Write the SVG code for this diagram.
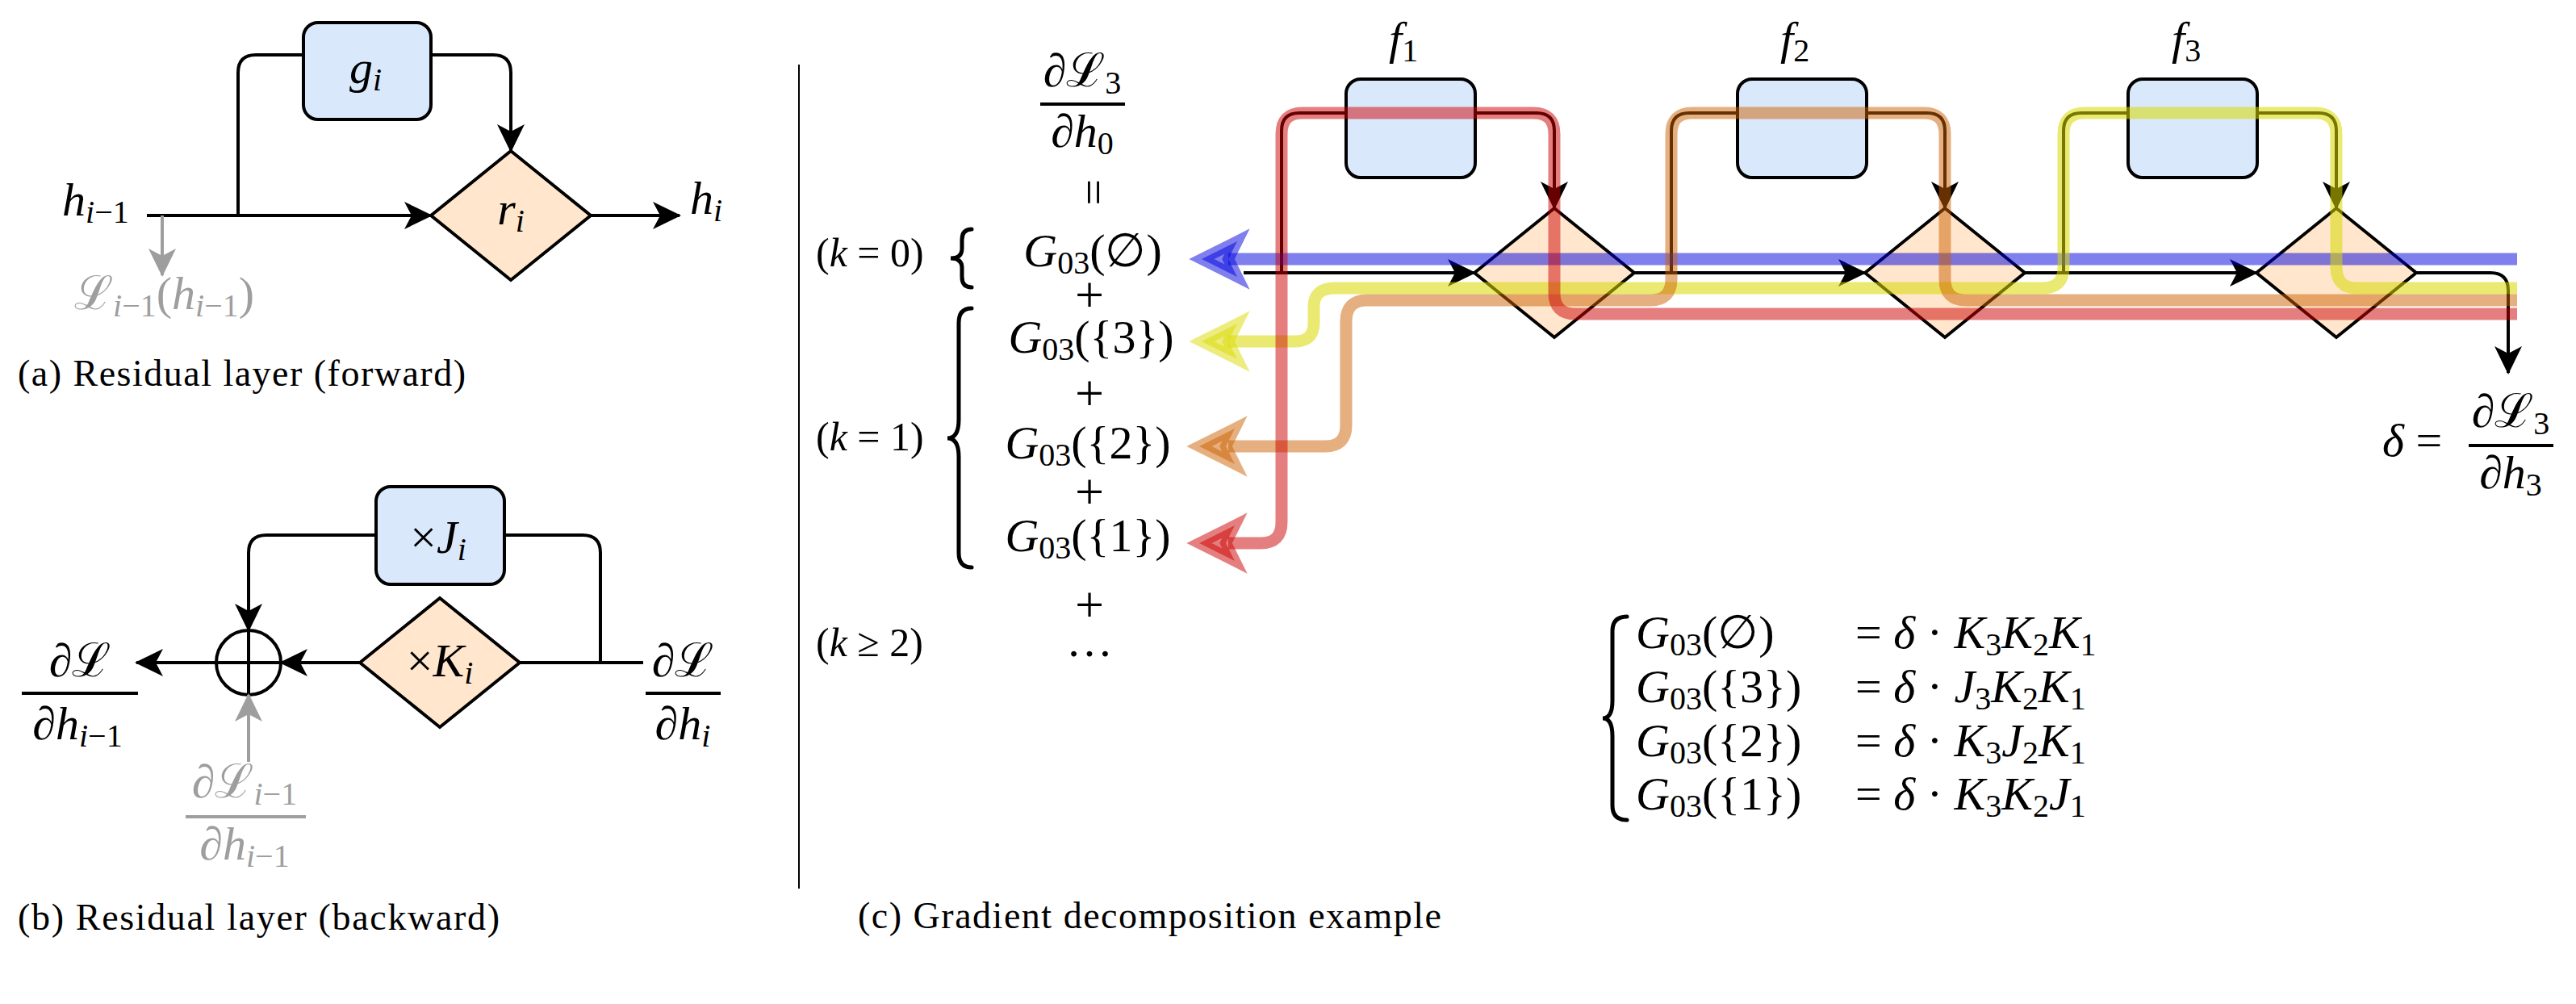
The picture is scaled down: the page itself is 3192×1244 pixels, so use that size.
<svg xmlns="http://www.w3.org/2000/svg" width="3192" height="1244" viewBox="0 0 3192 1244">
<style>
.ln{stroke:#000;stroke-width:4;fill:none}
.gl{stroke:#9e9e9e;stroke-width:4;fill:none}
.box{fill:#dae8fc;stroke:#000;stroke-width:4}
.dia{fill:#ffe6cc;stroke:#000;stroke-width:4}
.bar{stroke:#000;stroke-width:4}
.gbar{stroke:#9e9e9e;stroke-width:4}
.m{font-family:"Liberation Serif","DejaVu Serif",serif;font-size:58px;fill:#000}
.mc{font-family:"Liberation Serif","DejaVu Serif",serif;font-size:58px;fill:#000}
.pl{font-family:"Liberation Serif","DejaVu Serif",serif;font-size:64px;fill:#000}
.k{font-family:"Liberation Serif","DejaVu Serif",serif;font-size:50px;fill:#000}
.g{fill:#9e9e9e}
.it{font-style:italic}
.sb{font-size:40px}
.cap{font-family:"Liberation Serif","DejaVu Serif",serif;font-size:46px;fill:#000}
.band{fill:none;stroke-width:15;stroke-opacity:0.5}
.head{stroke-width:14;stroke-linejoin:miter;stroke-miterlimit:4;fill-opacity:0.5;stroke-opacity:0.5}
.brace{fill:none;stroke:#000;stroke-width:5;stroke-linecap:round}
</style>
<defs>
<marker id="ah" viewBox="-40 -20 44 40" refX="0" refY="0" markerWidth="44" markerHeight="40" markerUnits="userSpaceOnUse" orient="auto">
<path d="M2,0 L-33,-17 L-24,0 L-33,17 Z" fill="#000"/>
</marker>
<marker id="ahg" viewBox="-40 -20 44 40" refX="0" refY="0" markerWidth="44" markerHeight="40" markerUnits="userSpaceOnUse" orient="auto">
<path d="M2,0 L-33,-17 L-24,0 L-33,17 Z" fill="#9e9e9e"/>
</marker>
<polygon id="bhead" points="0,0 44,-22 33,0 44,22"/>
</defs>

<!-- Panel (a) -->
<g id="a-gi">
<rect class="box" x="376" y="28" width="158" height="120" rx="18"/>
<text class="m" x="453" y="103" text-anchor="middle"><tspan class="it">g</tspan><tspan class="sb it" dy="9">i</tspan></text>
</g>
<g id="a-ri">
<polygon class="dia" points="534,267 633,187 732,267 633,347"/>
<text class="m" x="633" y="278" text-anchor="middle"><tspan class="it">r</tspan><tspan class="sb it" dy="9">i</tspan></text>
</g>
<g id="a-hin">
<text class="m" x="77" y="267"><tspan class="it">h</tspan><tspan class="sb" dy="9"><tspan class="it">i</tspan>−1</tspan></text>
</g>
<g id="a-hout">
<text class="m" x="855" y="265"><tspan class="it">h</tspan><tspan class="sb it" dy="9">i</tspan></text>
</g>
<g id="a-loss">
<text class="m g" x="92" y="383"><tspan>ℒ</tspan><tspan class="sb it" dy="9">i</tspan><tspan class="sb" dy="0">−1</tspan><tspan dy="-9">(</tspan><tspan class="it">h</tspan><tspan class="sb" dy="9"><tspan class="it">i</tspan>−1</tspan><tspan dy="-9">)</tspan></text>
</g>
<g id="a-edges">
<path class="ln" d="M182,267 H534" marker-end="url(#ah)"/>
<path class="ln" d="M295,267 V90 Q295,68 317,68 H376"/>
<path class="ln" d="M534,68 H611 Q633,68 633,90 V187" marker-end="url(#ah)"/>
<path class="ln" d="M732,267 H842" marker-end="url(#ah)"/>
<path class="gl" d="M201,267 V341" marker-end="url(#ahg)"/>
</g>
<text class="cap" x="22" y="478" textLength="555" lengthAdjust="spacing">(a) Residual layer (forward)</text>

<!-- Panel (b) -->
<g id="b-Ji">
<rect class="box" x="466" y="603" width="159" height="121" rx="18"/>
<text class="m" x="543" y="685" text-anchor="middle">×<tspan class="it">J</tspan><tspan class="sb it" dy="9">i</tspan></text>
</g>
<g id="b-Ki">
<polygon class="dia" points="446,821 545,741 644,821 545,901"/>
<text class="m" x="545" y="838" text-anchor="middle">×<tspan class="it">K</tspan><tspan class="sb it" dy="9">i</tspan></text>
</g>
<g id="b-plus">
<circle cx="308" cy="821" r="40" fill="#fff" stroke="#000" stroke-width="4"/>
<path class="ln" d="M268,821 H348 M308,781 V861"/>
</g>
<g id="b-out">
<line class="bar" x1="27" y1="859" x2="171" y2="859"/>
<text class="m" x="99" y="838" text-anchor="middle">∂ℒ</text>
<text class="m" x="96" y="916" text-anchor="middle">∂<tspan class="it">h</tspan><tspan class="sb" dy="9"><tspan class="it">i</tspan>−1</tspan></text>
</g>
<g id="b-in">
<line class="bar" x1="800" y1="859" x2="893" y2="859"/>
<text class="m" x="846" y="838" text-anchor="middle">∂ℒ</text>
<text class="m" x="846" y="916" text-anchor="middle">∂<tspan class="it">h</tspan><tspan class="sb it" dy="9">i</tspan></text>
</g>
<g id="b-loss">
<line class="gbar" x1="230" y1="1012" x2="379" y2="1012"/>
<text class="m g" x="303" y="988" text-anchor="middle">∂ℒ<tspan class="sb" dy="9"><tspan class="it">i</tspan>−1</tspan></text>
<text class="m g" x="303" y="1065" text-anchor="middle">∂<tspan class="it">h</tspan><tspan class="sb" dy="9"><tspan class="it">i</tspan>−1</tspan></text>
</g>
<g id="b-edges">
<path class="ln" d="M797,821 H644"/>
<path class="ln" d="M744,821 V685 Q744,663 722,663 H625"/>
<path class="ln" d="M466,663 H330 Q308,663 308,685 V781" marker-end="url(#ah)"/>
<path class="ln" d="M446,821 H348" marker-end="url(#ah)"/>
<path class="ln" d="M268,821 H169" marker-end="url(#ah)"/>
<path class="gl" d="M308,944 V861" marker-end="url(#ahg)"/>
</g>
<text class="cap" x="22" y="1152" textLength="597" lengthAdjust="spacing">(b) Residual layer (backward)</text>

<!-- divider -->
<line x1="990" y1="80" x2="990" y2="1101" stroke="#000" stroke-width="2"/>

<!-- Panel (c) left column -->
<g id="c-lhs">
<line class="bar" x1="1289" y1="129" x2="1394" y2="129"/>
<text class="mc" x="1341" y="107" text-anchor="middle">∂ℒ<tspan class="sb" dy="9">3</tspan></text>
<text class="mc" x="1341" y="182" text-anchor="middle">∂<tspan class="it">h</tspan><tspan class="sb" dy="9">0</tspan></text>
<text class="mc" transform="translate(1336,238) rotate(90)" text-anchor="middle" y="0">=</text>
</g>
<g id="c-k0">
<text class="k" x="1011" y="330">(<tspan class="it">k</tspan> = 0)</text>
<path class="brace" d="M1204,284 Q1192,284 1192,297 V308 Q1192,320 1178,320 Q1192,320 1192,332 V343 Q1192,356 1204,356"/>
<text class="mc" x="1354" y="330" text-anchor="middle"><tspan class="it">G</tspan><tspan class="sb" dy="9">03</tspan><tspan dy="-9">(∅)</tspan></text>
<text class="pl" x="1350" y="387" text-anchor="middle">+</text>
</g>
<g id="c-k1">
<text class="k" x="1011" y="558">(<tspan class="it">k</tspan> = 1)</text>
<path class="brace" d="M1204,382 Q1188,382 1188,400 V520 Q1188,543 1174,543 Q1188,543 1188,566 V685 Q1188,703 1204,703"/>
<text class="mc" x="1352" y="437" text-anchor="middle"><tspan class="it">G</tspan><tspan class="sb" dy="9">03</tspan><tspan dy="-9">({3})</tspan></text>
<text class="pl" x="1350" y="509" text-anchor="middle">+</text>
<text class="mc" x="1348" y="568" text-anchor="middle"><tspan class="it">G</tspan><tspan class="sb" dy="9">03</tspan><tspan dy="-9">({2})</tspan></text>
<text class="pl" x="1350" y="631" text-anchor="middle">+</text>
<text class="mc" x="1348" y="683" text-anchor="middle"><tspan class="it">G</tspan><tspan class="sb" dy="9">03</tspan><tspan dy="-9">({1})</tspan></text>
<text class="pl" x="1350" y="771" text-anchor="middle">+</text>
</g>
<g id="c-k2">
<text class="k" x="1011" y="813">(<tspan class="it">k</tspan> ≥ 2)</text>
<text class="mc" x="1350" y="813" text-anchor="middle">…</text>
</g>

<!-- Panel (c) nodes -->
<g id="c-f1">
<text class="m" x="1721" y="67"><tspan class="it">f</tspan><tspan class="sb" dy="9">1</tspan></text>
<rect class="box" x="1668" y="98" width="160" height="122" rx="18"/>
</g>
<g id="c-f2">
<text class="m" x="2206" y="67"><tspan class="it">f</tspan><tspan class="sb" dy="9">2</tspan></text>
<rect class="box" x="2153" y="98" width="160" height="122" rx="18"/>
</g>
<g id="c-f3">
<text class="m" x="2691" y="67"><tspan class="it">f</tspan><tspan class="sb" dy="9">3</tspan></text>
<rect class="box" x="2637" y="98" width="160" height="122" rx="18"/>
</g>
<g id="c-r1"><polygon class="dia" points="1827,338 1926,258 2025,338 1926,418"/></g>
<g id="c-r2"><polygon class="dia" points="2311,338 2410,258 2509,338 2410,418"/></g>
<g id="c-r3"><polygon class="dia" points="2796,338 2895,258 2994,338 2895,418"/></g>
<g id="c-delta">
<text class="mc" x="2952" y="565"><tspan class="it">δ</tspan> =</text>
<line class="bar" x1="3059" y1="552" x2="3164" y2="552"/>
<text class="mc" x="3111" y="529" text-anchor="middle">∂ℒ<tspan class="sb" dy="9">3</tspan></text>
<text class="mc" x="3111" y="605" text-anchor="middle">∂<tspan class="it">h</tspan><tspan class="sb" dy="9">3</tspan></text>
</g>

<!-- Panel (c) black connectors -->
<g id="c-edges">
<path class="ln" d="M1541,338 H1827" marker-end="url(#ah)"/>
<path class="ln" d="M2025,338 H2311" marker-end="url(#ah)"/>
<path class="ln" d="M2509,338 H2796" marker-end="url(#ah)"/>
<path class="ln" d="M2994,338 H3086 Q3108,338 3108,360 V462" marker-end="url(#ah)"/>
<path class="ln" d="M1588,338 V162 Q1588,140 1610,140 H1668"/>
<path class="ln" d="M1828,140 H1904 Q1926,140 1926,162 V258" marker-end="url(#ah)"/>
<path class="ln" d="M2071,338 V162 Q2071,140 2093,140 H2153"/>
<path class="ln" d="M2313,140 H2388 Q2410,140 2410,162 V258" marker-end="url(#ah)"/>
<path class="ln" d="M2557,338 V162 Q2557,140 2579,140 H2637"/>
<path class="ln" d="M2797,140 H2873 Q2895,140 2895,162 V258" marker-end="url(#ah)"/>
</g>

<!-- Gradient paths -->
<g id="c-paths">
<path class="band" stroke="#0000dd" d="M3119,321 H1522"/>
<use href="#bhead" class="head" fill="#0000dd" stroke="#0000dd" x="1489" y="321"/>
<path class="band" stroke="#d9d900" style="stroke-opacity:0.55" d="M3119,357 H2921 Q2895,357 2895,331 V166 Q2895,140 2869,140 H2583 Q2557,140 2557,166 V331 Q2557,357 2531,357 H1654 Q1628,357 1628,380 V400 Q1628,423 1605,423 H1522"/>
<use href="#bhead" class="head" fill="#d9d900" stroke="#d9d900" x="1489" y="423"/>
<path class="band" stroke="#cc5f00" d="M3119,372 H2436 Q2410,372 2410,346 V166 Q2410,140 2384,140 H2097 Q2071,140 2071,166 V346 Q2071,372 2045,372 H1694 Q1668,372 1668,398 V527 Q1668,553 1642,553 H1522"/>
<use href="#bhead" class="head" fill="#cc5f00" stroke="#cc5f00" x="1486" y="553"/>
<path class="band" stroke="#cc0000" d="M3119,389 H1952 Q1926,389 1926,363 V166 Q1926,140 1900,140 H1614 Q1588,140 1588,166 V647 Q1588,673 1562,673 H1522"/>
<use href="#bhead" class="head" fill="#cc0000" stroke="#cc0000" x="1486" y="673"/>
</g>

<!-- Equation block -->
<g id="c-eqs">
<path class="brace" d="M2016,764 Q1998,764 1998,782 V868 Q1998,890 1986,890 Q1998,890 1998,912 V998 Q1998,1016 2016,1016"/>
<text class="mc" x="2027" y="803"><tspan class="it">G</tspan><tspan class="sb" dy="9">03</tspan><tspan dy="-9">(∅)</tspan></text>
<text class="mc" x="2299" y="803">= <tspan class="it">δ</tspan> · <tspan class="it">K</tspan><tspan class="sb" dy="9">3</tspan><tspan class="it" dy="-9">K</tspan><tspan class="sb" dy="9">2</tspan><tspan class="it" dy="-9">K</tspan><tspan class="sb" dy="9">1</tspan></text>
<text class="mc" x="2027" y="870"><tspan class="it">G</tspan><tspan class="sb" dy="9">03</tspan><tspan dy="-9">({3})</tspan></text>
<text class="mc" x="2299" y="870">= <tspan class="it">δ</tspan> · <tspan class="it">J</tspan><tspan class="sb" dy="9">3</tspan><tspan class="it" dy="-9">K</tspan><tspan class="sb" dy="9">2</tspan><tspan class="it" dy="-9">K</tspan><tspan class="sb" dy="9">1</tspan></text>
<text class="mc" x="2027" y="937"><tspan class="it">G</tspan><tspan class="sb" dy="9">03</tspan><tspan dy="-9">({2})</tspan></text>
<text class="mc" x="2299" y="937">= <tspan class="it">δ</tspan> · <tspan class="it">K</tspan><tspan class="sb" dy="9">3</tspan><tspan class="it" dy="-9">J</tspan><tspan class="sb" dy="9">2</tspan><tspan class="it" dy="-9">K</tspan><tspan class="sb" dy="9">1</tspan></text>
<text class="mc" x="2027" y="1003"><tspan class="it">G</tspan><tspan class="sb" dy="9">03</tspan><tspan dy="-9">({1})</tspan></text>
<text class="mc" x="2299" y="1003">= <tspan class="it">δ</tspan> · <tspan class="it">K</tspan><tspan class="sb" dy="9">3</tspan><tspan class="it" dy="-9">K</tspan><tspan class="sb" dy="9">2</tspan><tspan class="it" dy="-9">J</tspan><tspan class="sb" dy="9">1</tspan></text>
</g>

<text class="cap" x="1063" y="1150" textLength="723" lengthAdjust="spacing">(c) Gradient decomposition example</text>
</svg>
